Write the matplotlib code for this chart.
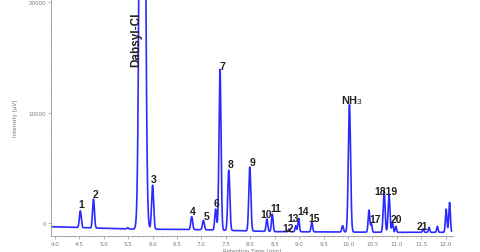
import numpy as np
import matplotlib
matplotlib.use("Agg")
import matplotlib.pyplot as plt
from matplotlib.ticker import MultipleLocator

# ---- data ----
peak_times = [4.52, 4.79, 5.49, 5.79, 6.00, 6.80, 7.04, 7.29, 7.38, 7.56, 7.99,
              8.34, 8.45, 8.79, 8.93, 8.99, 9.26, 9.89, 10.03, 10.43, 10.48,
              10.74, 10.84, 10.91, 10.98, 11.54, 11.66, 11.83, 12.01, 12.08]
peak_apex = [1100, 2160, -420, 100000, 3420, 570, 240, 1260, 13900, 4780, 5070,
             360, 810, -540, -240, 420, 60, -240, 10700, 1170, -90,
             2900, 2600, 60, -300, -540, -390, -300, 1260, 1860]
peak_sigma = [0.019, 0.019, 0.016, 0.042, 0.021, 0.019, 0.019, 0.018, 0.021, 0.021, 0.021,
              0.017, 0.017, 0.014, 0.014, 0.016, 0.016, 0.017, 0.023, 0.017, 0.014,
              0.019, 0.019, 0.014, 0.014, 0.014, 0.014, 0.014, 0.016, 0.016]

base_times = [3.92, 5.5, 7.0, 8.5, 11.0, 12.15]
base_values = [-330, -540, -600, -780, -840, -840]

labels = ["1", "2", "3", "4", "5", "6", "7", "8", "9", "10", "11", "12", "13",
          "14", "15", "17", "1819", "20", "21"]
label_x = [4.53, 4.84, 6.02, 6.83, 7.10, 7.31, 7.43, 7.60, 8.04, 8.33, 8.53, 8.78,
           8.88, 9.09, 9.31, 10.56, 10.77, 10.99, 11.53]
label_y = [1700, 2600, 3950, 1050, 600, 1800, 14200, 5300, 5500, 850, 1350, -430,
           450, 1050, 450, 350, 2900, 350, -300]

# ---- signal ----
t = np.linspace(3.92, 12.12, 6000)
baseline = np.interp(t, base_times, base_values)
signal = baseline.copy()
for tc, ap, sg in zip(peak_times, peak_apex, peak_sigma):
    amp = ap - np.interp(tc, base_times, base_values)
    signal += amp * np.exp(-0.5 * ((t - tc) / sg) ** 2)

fig = plt.figure(figsize=(4.8, 2.53), dpi=100)
ax = fig.add_axes([51 / 480, 1 - 237 / 253, 402 / 480, 237 / 253])
ax.plot(t, signal, color="#2b2bff", lw=1.2)
ax.set_xlim(3.92, 12.15)
ax.set_ylim(-1173, 20270)

for s in ["top", "right"]:
    ax.spines[s].set_visible(False)
for s in ["left", "bottom"]:
    ax.spines[s].set_color("#999999")
    ax.spines[s].set_linewidth(0.6)

ax.set_xticks(np.arange(4.0, 12.01, 0.5))
ax.set_xticklabels([f"{v:.1f}" for v in np.arange(4.0, 12.01, 0.5)])
ax.xaxis.set_minor_locator(MultipleLocator(0.1))
ax.set_yticks([0, 10000, 20000])
ax.yaxis.set_minor_locator(MultipleLocator(2000))
ax.tick_params(axis="both", which="major", labelsize=4, colors="#999999",
               labelcolor="#777777", length=2, width=0.5, pad=1.5)
ax.tick_params(axis="both", which="minor", colors="#999999", length=1, width=0.4)
ax.set_xlabel("Retention Time [min]", fontsize=4, color="#777777", labelpad=1)
ax.set_ylabel("Intensity [µV]", fontsize=4, color="#777777", labelpad=8)

fp = dict(fontfamily="Liberation Sans", fontweight="bold", color="#222222")
for lab, x, y in zip(labels, label_x, label_y):
    ax.text(x, y, lab, fontsize=7.5, ha="center", va="center", **fp)

ax.text(5.66, 16700, "Dabsyl-Cl", fontsize=8.5, rotation=90, ha="center",
        va="center", **fp)
ax.text(10.03, 11100, "NH", fontsize=8, ha="center", va="center", **fp)
ax.text(10.22, 11030, "3", fontsize=6, ha="center", va="center",
        fontfamily="Liberation Sans", color="#222222")

fig.savefig("out.png", dpi=100)
